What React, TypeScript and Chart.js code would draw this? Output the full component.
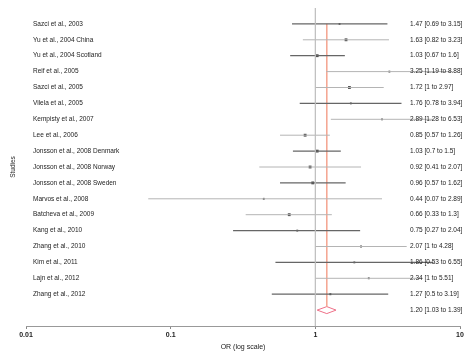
import React, { useEffect, useRef } from "react";
import { Chart, registerables } from "chart.js";
Chart.register(...registerables);

const studies = [
  "Sazci et al., 2003", "Yu et al., 2004 China", "Yu et al., 2004 Scotland", "Reif et al., 2005",
  "Sazci et al., 2005", "Vilela et al., 2005", "Kempisty et al., 2007", "Lee et al., 2006",
  "Jonsson et al., 2008 Denmark", "Jonsson et al., 2008 Norway", "Jonsson et al., 2008 Sweden",
  "Marvos et al., 2008", "Batcheva et al., 2009", "Kang et al., 2010", "Zhang et al., 2010",
  "Kim et al., 2011", "Lajn et al., 2012", "Zhang et al., 2012",
];
const orValues = [1.47, 1.63, 1.03, 3.25, 1.72, 1.76, 2.89, 0.85, 1.03, 0.92, 0.96, 0.44, 0.66, 0.75, 2.07, 1.86, 2.34, 1.27];
const lowerCI = [0.69, 0.82, 0.67, 1.19, 1, 0.78, 1.28, 0.57, 0.7, 0.41, 0.57, 0.07, 0.33, 0.27, 1, 0.53, 1, 0.5];
const upperCI = [3.15, 3.23, 1.6, 8.88, 2.97, 3.94, 6.53, 1.26, 1.5, 2.07, 1.62, 2.89, 1.3, 2.04, 4.28, 6.55, 5.51, 3.19];
const rightLabels = [
  "1.47 [0.69 to 3.15]", "1.63 [0.82 to 3.23]", "1.03 [0.67 to 1.6]", "3.25 [1.19 to 8.88]",
  "1.72 [1 to 2.97]", "1.76 [0.78 to 3.94]", "2.89 [1.28 to 6.53]", "0.85 [0.57 to 1.26]",
  "1.03 [0.7 to 1.5]", "0.92 [0.41 to 2.07]", "0.96 [0.57 to 1.62]", "0.44 [0.07 to 2.89]",
  "0.66 [0.33 to 1.3]", "0.75 [0.27 to 2.04]", "2.07 [1 to 4.28]", "1.86 [0.53 to 6.55]",
  "2.34 [1 to 5.51]", "1.27 [0.5 to 3.19]",
];
const pooled = { or: 1.2, lo: 1.03, hi: 1.39, label: "1.20 [1.03 to 1.39]" };
const xTicks = [0.01, 0.1, 1, 10];
// visual weight class per study (1 = darker line)
const heavy = [1, 0, 1, 0, 0, 1, 0, 0, 1, 0, 1, 0, 0, 1, 0, 1, 0, 1];
const boxSize = [1.3, 2, 2, 1.3, 2, 1.3, 1.3, 2, 2, 2, 2, 1.3, 2, 1.3, 1.4, 1.3, 1.3, 1.4];

const FONT = "'Liberation Sans', Arial, sans-serif";

export default function App() {
  const ref = useRef<HTMLCanvasElement | null>(null);
  useEffect(() => {
    if (!ref.current) return;
    const n = studies.length;
    const datasets: any[] = [];
    datasets.push({
      type: "line", data: [{ x: 1, y: 0 }, { x: 1, y: n + 2 }],
      borderColor: "#bdbdbd", borderWidth: 1.2, pointRadius: 0,
    });
    studies.forEach((_, i) => {
      datasets.push({
        type: "line",
        data: [{ x: lowerCI[i], y: i + 1 }, { x: upperCI[i], y: i + 1 }],
        borderColor: heavy[i] ? "#666666" : "#b4b4b4",
        borderWidth: heavy[i] ? 1.3 : 1,
        pointRadius: 0,
      });
    });
    datasets.push({
      type: "line", data: [{ x: pooled.or, y: 1 }, { x: pooled.or, y: n + 1 - 0.22 }],
      borderColor: "#f2a08a", borderWidth: 0.8, pointRadius: 0,
    });
    datasets.push({
      type: "scatter",
      data: studies.map((_, i) => ({ x: orValues[i], y: i + 1 })),
      pointStyle: "rect",
      pointRadius: boxSize,
      backgroundColor: "#4a4a4a",
      borderColor: "#4a4a4a",
      borderWidth: 0,
    });
    const py = n + 1;
    datasets.push({
      type: "line",
      data: [
        { x: pooled.lo, y: py }, { x: pooled.or, y: py - 0.22 },
        { x: pooled.hi, y: py }, { x: pooled.or, y: py + 0.22 }, { x: pooled.lo, y: py },
      ],
      borderColor: "#ee7088", borderWidth: 1, pointRadius: 0, fill: false,
    });

    const textPlugin = {
      id: "forestText",
      afterDatasetsDraw(chart: any) {
        const { ctx, chartArea, scales } = chart;
        const ys = scales.y;
        ctx.save();
        ctx.fillStyle = "#222";
        ctx.font = `6.5px ${FONT}`;
        ctx.textBaseline = "middle";
        ctx.textAlign = "left";
        studies.forEach((s, i) => {
          const y = ys.getPixelForValue(i + 1);
          ctx.fillText(s, chartArea.left + 7, y);
          ctx.fillText(rightLabels[i], chartArea.right - 50, y);
        });
        ctx.fillText(pooled.label, chartArea.right - 50, ys.getPixelForValue(n + 1));
        ctx.translate(13, (chartArea.top + chartArea.bottom) / 2);
        ctx.rotate(-Math.PI / 2);
        ctx.textAlign = "center";
        ctx.fillText("Studies", 0, 0);
        ctx.restore();
      },
    };

    const chart = new Chart(ref.current, {
      type: "scatter",
      data: { datasets },
      options: {
        animation: false,
        responsive: false,
        maintainAspectRatio: false,
        layout: { padding: { left: 26, right: 14, top: 8, bottom: 0 } },
        plugins: { legend: { display: false }, tooltip: { enabled: false } },
        scales: {
          x: {
            type: "logarithmic",
            min: 0.01,
            max: 10,
            afterBuildTicks: (s: any) => { s.ticks = xTicks.map((v) => ({ value: v })); },
            afterFit: (s: any) => { s.height = 32; },
            grid: { display: true, drawOnChartArea: false, drawTicks: true, tickLength: 3, color: "#888" },
            border: { display: true, color: "#999", width: 1 },
            ticks: {
              color: "#222", font: { family: FONT, size: 7, weight: "bold" }, padding: 2,
              maxRotation: 0, autoSkip: false,
              callback: (v: any) => String(v),
            },
            title: {
              display: true, text: "OR (log scale)", color: "#222",
              font: { family: FONT, size: 7 }, padding: { top: 0, bottom: 7 },
            },
          },
          y: {
            type: "linear", min: 0, max: n + 2, reverse: true, display: false,
          },
        },
      },
      plugins: [textPlugin],
    });
    return () => chart.destroy();
  }, []);
  return (
    <div style={{ position: "absolute", left: 0, top: 0, width: 474, height: 358, background: "#fff" }}>
      <canvas ref={ref} width={474} height={358} style={{ width: 474, height: 358 }} />
    </div>
  );
}
